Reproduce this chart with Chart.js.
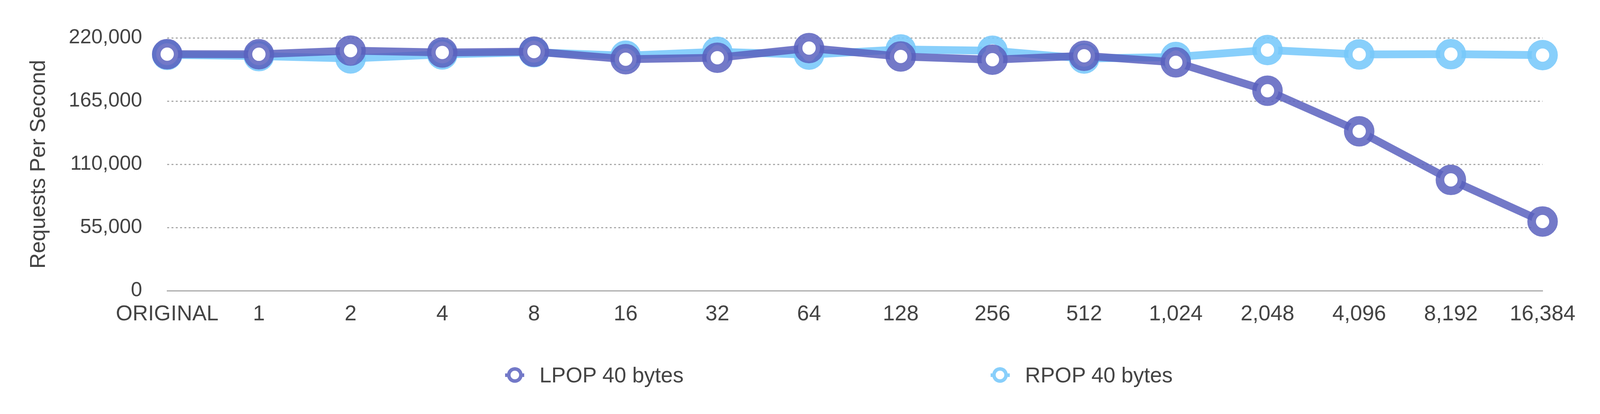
<!DOCTYPE html>
<html>
<head>
<meta charset="utf-8">
<script src="https://cdn.jsdelivr.net/npm/chart.js@4"></script>
<style>
  body { margin: 0; background: #fff; font-family: "Liberation Sans", Helvetica, Arial, sans-serif; }
  #wrap { position: relative; width: 4141px; height: 1061px; }
  #box { position: absolute; left: 0; top: 0; width: 4141px; height: 880px; }
  #legend { position: absolute; top: 930px; left: 1293px; display: flex; gap: 786px; height: 62px; line-height: 62px; font-size: 55px; color: #444; }
  .item { display: flex; align-items: center; }
  .swatch { position: relative; width: 49px; height: 40px; margin-right: 39px; }
  .swatch::before { content: ""; position: absolute; left: 0; top: 15.5px; width: 49px; height: 9px; background: var(--c); }
  .swatch::after { content: ""; position: absolute; left: 4.5px; top: 0; width: 40px; height: 40px; box-sizing: border-box; border: 9.5px solid var(--c); border-radius: 50%; background: #fff; }
</style>
</head>
<body>
<div id="wrap">
  <div id="box"><canvas id="rpsChart"></canvas></div>
  <div id="legend"></div>
</div>
<script>
// x categories (list size) and requests/sec
const sizes = ['ORIGINAL', '1', '2', '4', '8', '16', '32', '64', '128', '256', '512', '1,024', '2,048', '4,096', '8,192', '16,384'];
const lpop = [205800, 205700, 208900, 207300, 208000, 201400, 202700, 211100, 203800, 201000, 204400, 198700, 174000, 138700, 96400, 60200];
const rpop = [205200, 204100, 202100, 205600, 207500, 204500, 207900, 205400, 209900, 208800, 202000, 203400, 209400, 205600, 205800, 205000];
const yTicks = [0, 55000, 110000, 165000, 220000];
const seriesNames = ['LPOP 40 bytes', 'RPOP 40 bytes'];

const darkBlue = 'rgba(90,98,190,0.85)';
const lightBlue = 'rgba(120,200,250,0.88)';
const family = '"Liberation Sans", Helvetica, Arial, sans-serif';
const font = { family: family, size: 55 };

function lineSet(label, data, color) {
  return {
    label: label,
    data: data,
    borderColor: color,
    borderWidth: 20,
    tension: 0,
    pointRadius: 28,
    pointBorderWidth: 22,
    pointBorderColor: color,
    pointBackgroundColor: '#fff',
    clip: false
  };
}

const ctx = document.getElementById('rpsChart');

new Chart(ctx, {
  type: 'line',
  data: {
    labels: sizes,
    datasets: [
      lineSet(seriesNames[0], lpop, darkBlue),
      lineSet(seriesNames[1], rpop, lightBlue)
    ]
  },
  options: {
    responsive: true,
    maintainAspectRatio: false,
    animation: false,
    layout: { padding: { left: 63, top: 97, right: 192, bottom: 21 } },
    plugins: { legend: { display: false }, tooltip: { enabled: false } },
    scales: {
      x: {
        offset: false,
        grid: { display: false },
        border: { display: true, color: '#aaa', width: 3 },
        ticks: { color: '#444', font: font, padding: 20, maxRotation: 0, autoSkip: false }
      },
      y: {
        min: 0,
        max: 220000,
        afterBuildTicks: (axis) => { axis.ticks = yTicks.map(v => ({ value: v })); },
        afterFit: (axis) => { axis.width = 365; },
        grid: { color: '#aaa', lineWidth: 3, drawTicks: false },
        border: { display: false, dash: [5, 6] },
        ticks: {
          color: '#444', font: { family: family, size: 52 }, padding: 64,
          callback: (v) => v.toLocaleString('en-US')
        },
        title: {
          display: true, text: 'Requests Per Second', color: '#444', font: font,
          padding: { top: 4, bottom: 4 }
        }
      }
    }
  }
});

// legend below the chart
const legend = document.getElementById('legend');
[darkBlue, lightBlue].forEach((c, i) => {
  const item = document.createElement('div');
  item.className = 'item';
  item.innerHTML = '<span class="swatch" style="--c:' + c + '"></span><span>' + seriesNames[i] + '</span>';
  legend.appendChild(item);
});
</script>
</body>
</html>
